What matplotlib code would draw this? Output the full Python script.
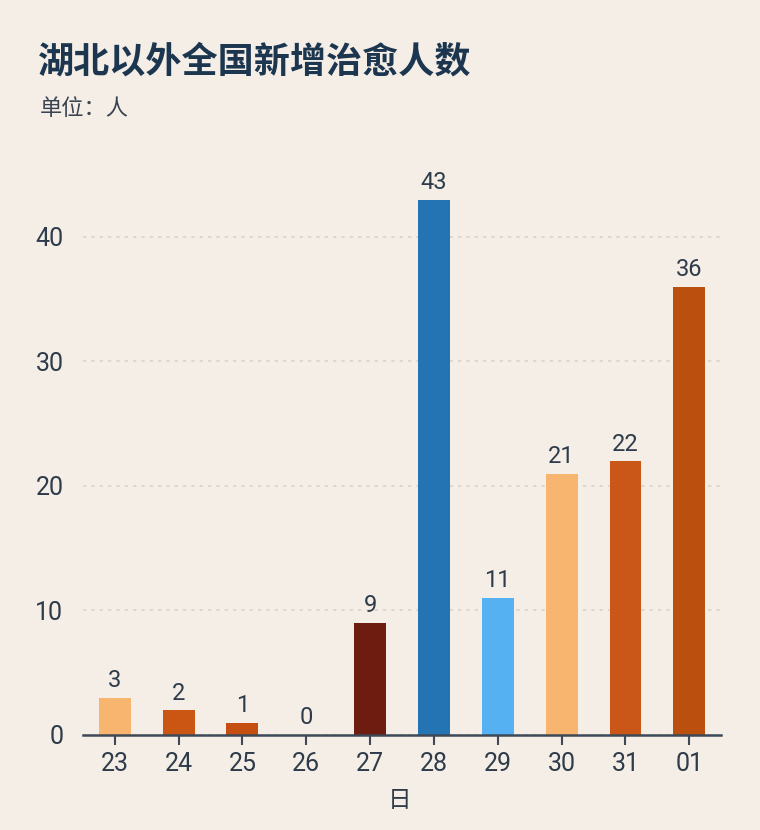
import matplotlib
matplotlib.use("Agg")
import matplotlib.pyplot as plt

plt.rcParams['font.family'] = ['Roboto', 'Noto Sans CJK SC', 'DejaVu Sans']

days = ["23", "24", "25", "26", "27", "28", "29", "30", "31", "01"]
values = [3, 2, 1, 0, 9, 43, 11, 21, 22, 36]
colors = ["#F8B570", "#CB5614", "#C44F10", "#C44F10", "#6E1B10",
          "#2473B2", "#56B1F2", "#F8B570", "#CA5618", "#BA4F0E"]
yticks = [0, 10, 20, 30, 40]

bg = "#F4EEE6"
txt = "#2E3B4A"

fig = plt.figure(figsize=(7.6, 8.3), dpi=100, facecolor=bg)
ax = fig.add_axes([0.109, 0.1145, 0.84, 0.69], facecolor=bg)

x = range(len(days))
bars = ax.bar(x, values, width=0.5, color=colors, zorder=3)
for xi, v in zip(x, values):
    ax.annotate(str(v), (xi, v), xytext=(0, 4), textcoords="offset points",
                ha="center", va="bottom", fontsize=17, color=txt)

ax.set_xlim(-0.5, len(days) - 0.5)
ax.set_ylim(0, 46)
ax.set_xticks(list(x))
ax.set_xticklabels(days)
ax.set_yticks(yticks)
ax.tick_params(axis='x', length=7, width=1.5, color="#3D4957", labelsize=18,
               labelcolor=txt, pad=5)
ax.tick_params(axis='y', length=0, labelsize=18, labelcolor=txt, pad=14)
for s in ["top", "right", "left"]:
    ax.spines[s].set_visible(False)
ax.spines["bottom"].set_color("#3D4957")
ax.spines["bottom"].set_linewidth(1.8)
ax.spines["bottom"].set_zorder(4)
ax.grid(axis='y', linestyle=(0, (2, 3)), color="#D9D3CB", linewidth=1.2, zorder=0)
ax.set_axisbelow(True)

fig.text(0.050, 0.925, "湖北以外全国新增治愈人数", fontsize=26, fontweight="bold",
         color="#1D3650", family=['Noto Sans CJK SC', 'DejaVu Sans'], va="center")
fig.text(0.052, 0.869, "单位：人", fontsize=16, color="#3A4350",
         family=['Noto Sans CJK SC', 'DejaVu Sans'], va="center")
fig.text(400 / 760, 1 - 800 / 830, "日", fontsize=17, color=txt,
         family=['Noto Sans CJK SC', 'DejaVu Sans'], ha="center", va="center")

fig.savefig("out.png", dpi=100, facecolor=bg)
